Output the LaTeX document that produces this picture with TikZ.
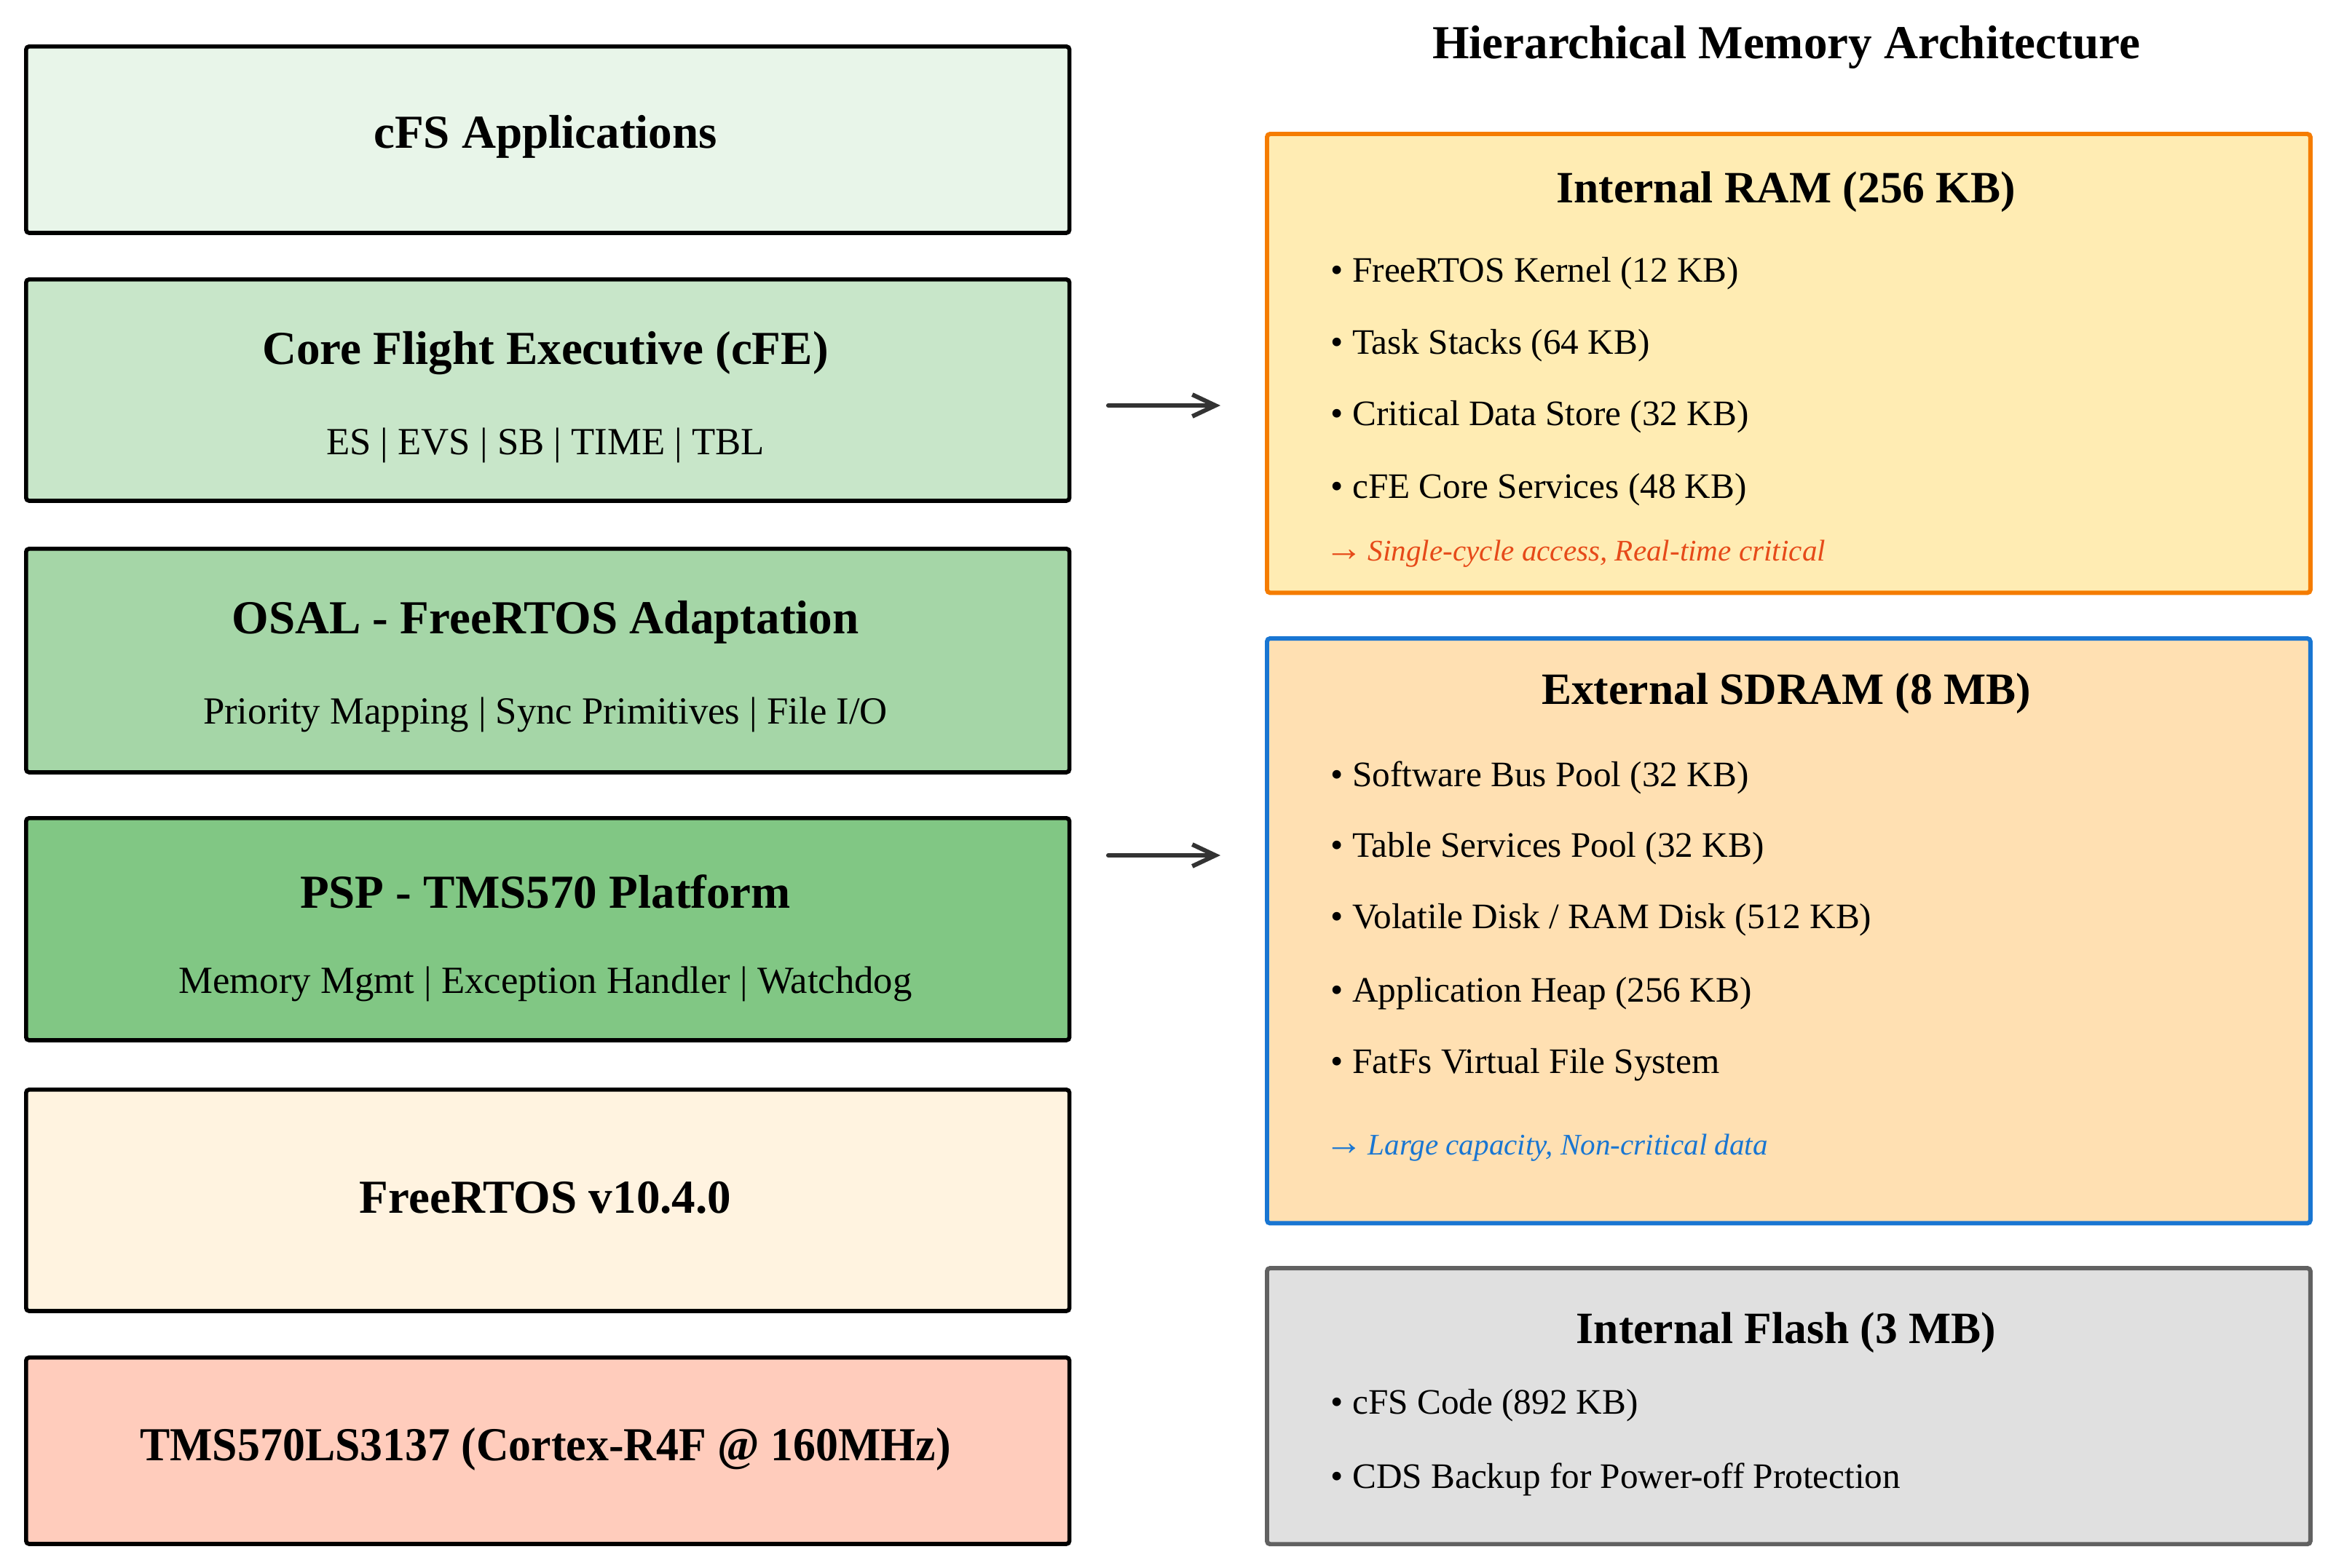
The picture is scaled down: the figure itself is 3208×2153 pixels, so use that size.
\documentclass[tikz,border=0pt]{standalone}
\usepackage{fontspec}
\setmainfont{Liberation Serif}
\usetikzlibrary{arrows.meta}

\definecolor{appfill}{HTML}{E8F5E9}
\definecolor{cfefill}{HTML}{C8E6C9}
\definecolor{osalfill}{HTML}{A5D6A7}
\definecolor{pspfill}{HTML}{81C784}
\definecolor{rtosfill}{HTML}{FFF3E0}
\definecolor{mcufill}{HTML}{FFCCBC}
\definecolor{ramfill}{HTML}{FFECB3}
\definecolor{ramline}{HTML}{F57C00}
\definecolor{ramnote}{HTML}{E64A19}
\definecolor{sdfill}{HTML}{FFE0B2}
\definecolor{sdline}{HTML}{1976D2}
\definecolor{flashfill}{HTML}{E0E0E0}
\definecolor{flashline}{HTML}{616161}
\definecolor{arrowgray}{HTML}{333333}

\newcommand{\notearrow}{{\fontsize{15}{15}\selectfont\upshape →}\hspace{0.15em}}

\begin{document}
\begin{tikzpicture}[x = 0.01cm, y = -0.01cm,
        layer/.style = {draw = black, line width = 1.6pt, rounded corners = 1.2pt, anchor = north west, inner sep = 0pt},
        membox/.style = {line width = 1.7pt, rounded corners = 1.2pt, anchor = north west, inner sep = 0pt},
        ttl/.style = {yshift = -0.06cm, font = \fontsize{18.5}{22}\selectfont\bfseries},
        sub/.style = {yshift = -0.06cm, font = \fontsize{15}{18}\selectfont},
        memttl/.style = {yshift = -0.06cm, font = \fontsize{17.5}{21}\selectfont\bfseries},
        item/.style = {yshift = -0.06cm, anchor = west, inner sep = 0pt, font = \fontsize{14}{17}\selectfont},
        note/.style = {yshift = -0.06cm, anchor = west, inner sep = 0pt, font = \fontsize{11.7}{14}\selectfont\itshape},
        flow/.style = {arrowgray, line width = 1.7pt, line cap = round, -{Straight Barb[length = 9pt, width = 8.5pt]}}]
    \useasboundingbox (0, 0) rectangle (3208, 2153);

    % software stack
    \node[layer, fill = appfill, minimum width = 14.32cm, minimum height = 2.56cm] (apps) at (33, 61) {};
    \node[layer, fill = cfefill, minimum width = 14.32cm, minimum height = 3.04cm] (cfe) at (33, 381) {};
    \node[layer, fill = osalfill, minimum width = 14.32cm, minimum height = 3.07cm] (osal) at (33, 751) {};
    \node[layer, fill = pspfill, minimum width = 14.32cm, minimum height = 3.05cm] (psp) at (33, 1121) {};
    \node[layer, fill = rtosfill, minimum width = 14.32cm, minimum height = 3.04cm] (rtos) at (33, 1494) {};
    \node[layer, fill = mcufill, minimum width = 14.32cm, minimum height = 2.56cm] (mcu) at (33, 1862) {};

    \node[ttl] (appsT) at (749, 182) {cFS Applications};
    \node[ttl] (cfeT) at (749, 479) {Core Flight Executive (cFE)};
    \node[sub] (cfeS) at (749, 606) {ES | EVS | SB | TIME | TBL};
    \node[ttl] (osalT) at (749, 849) {OSAL - FreeRTOS Adaptation};
    \node[sub] (osalS) at (749, 976) {Priority Mapping | Sync Primitives | File I/O};
    \node[ttl] (pspT) at (749, 1219) {PSP - TMS570 Platform};
    \node[sub] (pspS) at (749, 1346) {Memory Mgmt | Exception Handler | Watchdog};
    \node[ttl] (rtosT) at (749, 1639) {FreeRTOS v10.4.0};
    \node[ttl, xscale = 0.95] (mcuT) at (749, 1985) {TMS570LS3137 (Cortex-R4F @ 160MHz)};

    % memory map
    \node[ttl] (memT) at (2453, 59) {Hierarchical Memory Architecture};

    \node[membox, draw = ramline, fill = ramfill, minimum width = 14.32cm, minimum height = 6.30cm] (ram) at (1737, 181) {};
    \node[memttl] (ramT) at (2453, 258) {Internal RAM (256 KB)};
    \node[item] (ram1) at (1827, 370) {• FreeRTOS Kernel (12 KB)};
    \node[item] (ram2) at (1827, 469) {• Task Stacks (64 KB)};
    \node[item] (ram3) at (1827, 567) {• Critical Data Store (32 KB)};
    \node[item] (ram4) at (1827, 667) {• cFE Core Services (48 KB)};
    \node[note, ramnote] (ramN) at (1819, 755) {\notearrow Single-cycle access, Real-time critical};

    \node[membox, draw = sdline, fill = sdfill, minimum width = 14.32cm, minimum height = 8.03cm] (sdram) at (1737, 874) {};
    \node[memttl] (sdramT) at (2453, 947) {External SDRAM (8 MB)};
    \node[item] (sd1) at (1827, 1062) {• Software Bus Pool (32 KB)};
    \node[item] (sd2) at (1827, 1160) {• Table Services Pool (32 KB)};
    \node[item] (sd3) at (1827, 1258) {• Volatile Disk / RAM Disk (512 KB)};
    \node[item] (sd4) at (1827, 1359) {• Application Heap (256 KB)};
    \node[item] (sd5) at (1827, 1457) {• FatFs Virtual File System};
    \node[note, sdline] (sdN) at (1819, 1571) {\notearrow Large capacity, Non-critical data};

    \node[membox, draw = flashline, fill = flashfill, minimum width = 14.32cm, minimum height = 3.79cm] (flash) at (1737, 1739) {};
    \node[memttl] (flashT) at (2453, 1825) {Internal Flash (3 MB)};
    \node[item] (fl1) at (1827, 1925) {• cFS Code (892 KB)};
    \node[item] (fl2) at (1827, 2026) {• CDS Backup for Power-off Protection};

    % arrows
    \coordinate (cfeOut) at (1522, 557);
    \coordinate (ramIn) at (1676, 557);
    \coordinate (pspOut) at (1522, 1175);
    \coordinate (sdramIn) at (1676, 1175);
    \draw[flow] (cfeOut) -- (ramIn);
    \draw[flow] (pspOut) -- (sdramIn);
\end{tikzpicture}
\end{document}
